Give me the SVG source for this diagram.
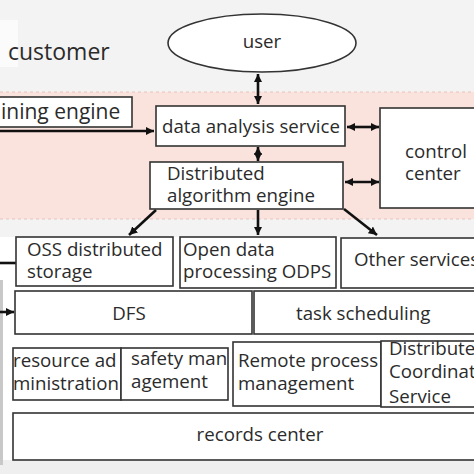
<svg xmlns="http://www.w3.org/2000/svg" width="474" height="474" viewBox="0 0 474 474">
<defs>
<marker id="ah" viewBox="0 0 10 10" refX="10" refY="5" markerWidth="3.2" markerHeight="3.2" orient="auto-start-reverse" markerUnits="strokeWidth">
<path d="M0,0 L10,5 L0,10 z" fill="#111"/>
</marker>
<style>
.box{fill:#fff;stroke:#333;stroke-width:1.6}
.t{font-family:"Open Sans","Noto Sans",sans-serif;font-size:18.7px;fill:#2b2b2b}
.c{stroke:#111;stroke-width:2.6;fill:none}
</style>
</defs>
<rect x="0" y="0" width="474" height="474" fill="#fff"/>
<rect x="0" y="0" width="474" height="92" fill="#f3f3f3"/>
<rect x="0" y="20" width="18" height="47" fill="#fbfbfb"/>
<rect x="0" y="92" width="474" height="127" fill="#fae3dc"/>
<rect x="0" y="219" width="474" height="18" fill="#f3f3f3"/>
<rect x="0" y="460" width="474" height="14" fill="#efefef"/>
<rect x="0" y="280" width="3" height="185" fill="#c8c8c8"/>
<line x1="0" y1="92" x2="474" y2="92" stroke="#e6c3bb" stroke-width="1.2" stroke-dasharray="3,3"/>
<line x1="0" y1="219" x2="474" y2="219" stroke="#e6c3bb" stroke-width="1.2" stroke-dasharray="3,3"/>
<text class="t" x="8" y="60" style="font-size:23px">customer</text>

<g id="connectors">
<line class="c" x1="258" y1="74" x2="258" y2="104" marker-start="url(#ah)" marker-end="url(#ah)"/>
<line class="c" x1="0" y1="131" x2="154" y2="131" marker-end="url(#ah)"/>
<line class="c" x1="258" y1="147" x2="258" y2="161" marker-start="url(#ah)" marker-end="url(#ah)"/>
<line class="c" x1="347" y1="127" x2="379" y2="127" marker-start="url(#ah)" marker-end="url(#ah)"/>
<line class="c" x1="345" y1="182" x2="379" y2="182" marker-start="url(#ah)" marker-end="url(#ah)"/>
<line class="c" x1="156" y1="210" x2="129" y2="235" marker-end="url(#ah)"/>
<line class="c" x1="258" y1="210" x2="258" y2="235" marker-end="url(#ah)"/>
<line class="c" x1="344" y1="209" x2="377" y2="235" marker-end="url(#ah)"/>
<line class="c" x1="0" y1="263" x2="16" y2="263"/>
<line class="c" x1="0" y1="312" x2="14" y2="312" marker-end="url(#ah)"/>
</g>

<g id="user">
<ellipse cx="262" cy="43" rx="94" ry="29" fill="#fff" stroke="#333" stroke-width="1.6"/>
<text class="t" x="262" y="48" text-anchor="middle">user</text>
</g>
<g id="mining-engine">
<rect class="box" x="-2" y="97" width="134" height="30"/>
<text class="t" x="1" y="119" style="font-size:21px">ining engine</text>
</g>
<g id="data-analysis">
<rect class="box" x="156" y="106" width="189" height="40"/>
<text class="t" x="162" y="133">data analysis service</text>
</g>
<g id="control-center">
<rect class="box" x="380" y="108" width="100" height="100"/>
<text class="t" x="405" y="158">control</text>
<text class="t" x="405" y="180">center</text>
</g>
<g id="algorithm-engine">
<rect class="box" x="150" y="162" width="193" height="47"/>
<text class="t" x="167" y="180">Distributed</text>
<text class="t" x="167" y="202">algorithm engine</text>
</g>
<g id="oss">
<rect class="box" x="16" y="237" width="157" height="49"/>
<text class="t" x="27" y="256">OSS distributed</text>
<text class="t" x="27" y="278">storage</text>
</g>
<g id="odps">
<rect class="box" x="180" y="237" width="156" height="51"/>
<text class="t" x="183" y="256">Open data</text>
<text class="t" x="183" y="278">processing ODPS</text>
</g>
<g id="other-services">
<rect class="box" x="341" y="238" width="140" height="50"/>
<text class="t" x="354" y="266">Other services</text>
</g>
<g id="dfs">
<rect class="box" x="15" y="291" width="237" height="43"/>
<text class="t" x="129" y="320" text-anchor="middle">DFS</text>
</g>
<g id="task-scheduling">
<rect class="box" x="254" y="291" width="226" height="43"/>
<text class="t" x="296" y="320">task scheduling</text>
</g>
<g id="resource-admin">
<rect class="box" x="13" y="348" width="108" height="52"/>
<text class="t" x="13" y="367">resource ad</text>
<text class="t" x="13" y="390">ministration</text>
</g>
<g id="safety">
<rect class="box" x="121" y="348" width="107" height="52"/>
<text class="t" x="131" y="365">safety man</text>
<text class="t" x="131" y="388">agement</text>
</g>
<g id="remote-process">
<rect class="box" x="233" y="342" width="148" height="64"/>
<text class="t" x="238" y="367">Remote process</text>
<text class="t" x="238" y="390">management</text>
</g>
<g id="coordination">
<rect class="box" x="381" y="341" width="100" height="66"/>
<text class="t" x="389" y="355">Distribute</text>
<text class="t" x="389" y="378">Coordinat</text>
<text class="t" x="389" y="403">Service</text>
</g>
<g id="records-center">
<rect class="box" x="13" y="413" width="468" height="47"/>
<text class="t" x="260" y="441" text-anchor="middle">records center</text>
</g>
</svg>
